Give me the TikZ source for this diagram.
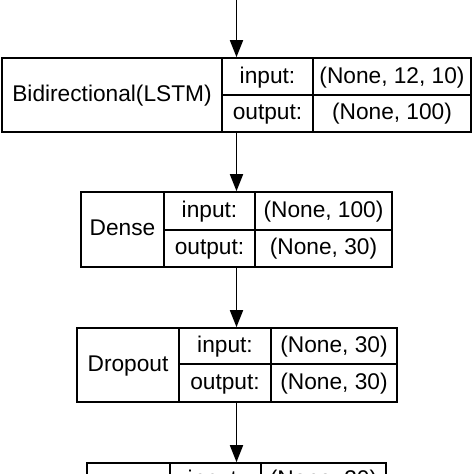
\documentclass[tikz,border=0pt]{standalone}
\usepackage{fontspec}
\setmainfont{Liberation Sans}
\usetikzlibrary{arrows.meta}
\begin{document}
\begin{tikzpicture}[x=1pt,y=-1pt,line width=1.6pt,
  cell/.style={inner sep=0pt,anchor=base,font=\fontsize{22.7}{27}\selectfont},
  flow/.style={-{Triangle[length=17pt,width=13pt]}},
  layer/.style={draw,inner sep=0pt}]
\useasboundingbox (0,0) rectangle (474,474);
% boxes
\node[layer,minimum width=469pt,minimum height=74pt] (b1) at (236.5,95) {};
\node[layer,minimum width=311pt,minimum height=75pt] (b2) at (236.5,229.5) {};
\node[layer,minimum width=320pt,minimum height=74pt] (b3) at (237,365) {};
\node[layer,minimum width=299pt,minimum height=74pt] (b4) at (236.5,500) {};
% internal lines
\draw (222,58) -- (222,132) (313,58) -- (313,132) (222,95) -- (471,95);
\draw (164,192) -- (164,267) (255,192) -- (255,267) (164,230) -- (392,230);
\draw (179,328) -- (179,402) (271,328) -- (271,402) (179,364) -- (397,364);
\draw (170,463) -- (170,537) (261,463) -- (261,537);
% texts
\node[cell] (t1a) at (112,101) {Bidirectional(LSTM)};
\node[cell] (t1b) at (267.5,83) {input:};
\node[cell] (t1c) at (392,83) {(None, 12, 10)};
\node[cell] (t1d) at (267.5,119.5) {output:};
\node[cell] (t1e) at (392,119.5) {(None, 100)};
\node[cell] (t2a) at (122.5,235.5) {Dense};
\node[cell] (t2b) at (209.5,217) {input:};
\node[cell] (t2c) at (323.5,217) {(None, 100)};
\node[cell] (t2d) at (209.5,254.5) {output:};
\node[cell] (t2e) at (323.5,254.5) {(None, 30)};
\node[cell] (t3a) at (128,371) {Dropout};
\node[cell] (t3b) at (225,352.5) {input:};
\node[cell] (t3c) at (334,352.5) {(None, 30)};
\node[cell] (t3d) at (225,389.5) {output:};
\node[cell] (t3e) at (334,389.5) {(None, 30)};
\node[cell] (t4b) at (215.5,486) {input:};
\node[cell] (t4c) at (323.5,486) {(None, 30)};
% connectors
\coordinate (src) at (236.5,0);
\draw[flow] (src) -- (b1.north);
\draw[flow] (b1.south) -- (b2.north);
\draw[flow] (b2.south) -- (b2.south |- b3.north);
\draw[flow] (b3.south -| b2.south) -- (b4.north);
\end{tikzpicture}
\end{document}
